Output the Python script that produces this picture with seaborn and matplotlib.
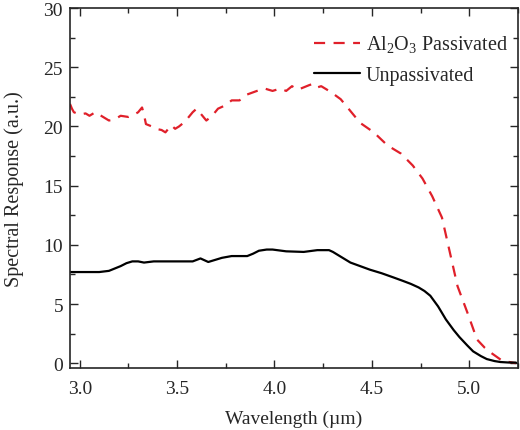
import pandas as pd
import matplotlib
matplotlib.use("Agg")
from matplotlib import pyplot as plt
from matplotlib.ticker import MultipleLocator
import seaborn as sns

# red dashed curve
wl_pass = [2.95, 2.96, 2.97, 3.00, 3.03, 3.05, 3.08, 3.10, 3.13, 3.15, 3.18, 3.21,
           3.25, 3.28, 3.30, 3.32, 3.33, 3.34, 3.37, 3.39, 3.42, 3.44, 3.46, 3.47,
           3.49, 3.51, 3.54, 3.56, 3.58, 3.60, 3.63, 3.65, 3.68, 3.71, 3.75, 3.78,
           3.82, 3.86, 3.91, 3.95, 3.99, 4.03, 4.06, 4.09, 4.12, 4.15, 4.18, 4.20,
           4.22, 4.24, 4.27, 4.29, 4.34, 4.39, 4.44, 4.51, 4.58, 4.65, 4.71, 4.76,
           4.81, 4.86, 4.90, 4.94, 4.99, 5.04, 5.08, 5.11, 5.17, 5.24]
sr_pass = [21.9, 21.5, 21.2, 21.0, 21.1, 20.9, 21.2, 21.0, 20.7, 20.5, 20.6, 20.9,
           20.8, 21.0, 21.2, 21.6, 21.0, 20.2, 20.0, 19.8, 19.7, 19.5, 19.9, 20.1,
           19.8, 20.0, 20.4, 20.8, 21.2, 21.5, 20.9, 20.5, 20.9, 21.5, 21.8, 22.2,
           22.2, 22.7, 23.0, 23.2, 23.0, 23.2, 23.0, 23.4, 23.1, 23.3, 23.5, 23.6,
           23.3, 23.4, 23.1, 22.9, 22.3, 21.3, 20.3, 19.5, 18.4, 17.7, 16.7, 15.6,
           14.1, 12.3, 9.4, 6.5, 4.3, 2.0, 1.3, 0.9, 0.2, 0.0]

# black solid curve
wl_unp = [2.95, 3.00, 3.10, 3.15, 3.18, 3.21, 3.24, 3.27, 3.30, 3.33, 3.38, 3.44,
          3.50, 3.55, 3.58, 3.62, 3.64, 3.66, 3.69, 3.73, 3.78, 3.82, 3.86, 3.89,
          3.92, 3.96, 3.99, 4.06, 4.15, 4.22, 4.28, 4.30, 4.32, 4.34, 4.37, 4.39,
          4.44, 4.49, 4.55, 4.61, 4.66, 4.70, 4.74, 4.77, 4.80, 4.84, 4.88, 4.92,
          4.95, 4.99, 5.02, 5.06, 5.09, 5.13, 5.16, 5.20, 5.24]
sr_unp = [7.7, 7.7, 7.7, 7.8, 8.0, 8.2, 8.45, 8.6, 8.6, 8.5, 8.6, 8.6,
          8.6, 8.6, 8.6, 8.85, 8.7, 8.55, 8.7, 8.9, 9.05, 9.05, 9.05, 9.25,
          9.5, 9.6, 9.6, 9.45, 9.4, 9.55, 9.55, 9.4, 9.2, 9.0, 8.7, 8.5,
          8.2, 7.9, 7.6, 7.25, 6.95, 6.7, 6.4, 6.1, 5.7, 4.8, 3.7, 2.8,
          2.2, 1.5, 1.0, 0.6, 0.35, 0.18, 0.1, 0.06, 0.05]

df_pass = pd.DataFrame({"wl": wl_pass, "sr": sr_pass})
df_unp = pd.DataFrame({"wl": wl_unp, "sr": sr_unp})

sns.set_style("ticks")
plt.rcParams["font.family"] = ["Liberation Serif", "DejaVu Serif"]
plt.rcParams["mathtext.fontset"] = "custom"
plt.rcParams["mathtext.rm"] = "Liberation Serif"

fig = plt.figure(figsize=(5.2, 4.31), dpi=100)
ax = fig.add_axes([0.1346, 0.144, 0.8614, 0.835])

sns.lineplot(data=df_pass, x="wl", y="sr", ax=ax, color="#e0202a", lw=1.6,
             label=r"Al$_\mathrm{2}$O$_\mathrm{3}$ Passivated",
             linestyle=(0, (5, 3.8)))
sns.lineplot(data=df_unp, x="wl", y="sr", ax=ax, color="black", lw=1.6,
             label="Unpassivated")

ax.set_xlim(2.95, 5.25)
ax.set_ylim(-0.4, 30)
ax.xaxis.set_major_locator(MultipleLocator(0.5))
ax.xaxis.set_minor_locator(MultipleLocator(0.25))
ax.yaxis.set_major_locator(MultipleLocator(5))
ax.yaxis.set_minor_locator(MultipleLocator(2.5))
ax.tick_params(which="both", direction="in", top=True, right=True, labelsize=14)
ax.tick_params(axis="x", which="major", pad=9)
ax.tick_params(axis="y", which="major", pad=5)
ax.tick_params(which="major", length=6, width=1)
ax.tick_params(which="minor", length=3.5, width=1)
for s in ax.spines.values():
    s.set_linewidth(1.2)

ax.set_xlabel("Wavelength (\u00b5m)", fontsize=14, labelpad=9)
ax.set_ylabel("Spectral Response (a.u.)", fontsize=14.5, labelpad=14)

ax.legend(loc="upper right", bbox_to_anchor=(1.005, 0.962), frameon=False,
          fontsize=14.5, handlelength=2.3, handletextpad=0.3,
          borderaxespad=0.2, labelspacing=0.55)

fig.savefig("out.png", dpi=100)
